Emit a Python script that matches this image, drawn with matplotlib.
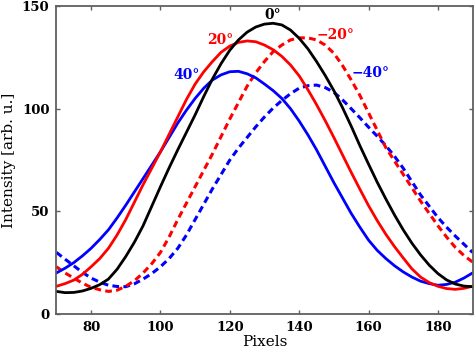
#!/usr/bin/env python3

import numpy as np
import matplotlib
matplotlib.use('Agg')
import matplotlib.pyplot as plt

# pixel positions (x axis) and intensities
pixels = [70, 72.5, 75, 77.5, 80, 82.5, 85, 87.5, 90, 92.5, 95, 97.5,
          100, 102.5, 105, 107.5, 110, 112.5, 115, 117.5, 120, 122.5, 125, 127.5,
          130, 132.5, 135, 137.5, 140, 142.5, 145, 147.5, 150, 152.5, 155, 157.5,
          160, 162.5, 165, 167.5, 170, 172.5, 175, 177.5, 180, 182.5, 185, 187.5,
          190]

int_0 = [11, 10.4, 10.5, 11.2, 12.5, 14.3, 17, 21.8, 28, 35, 43, 52.5,
         62, 71.2, 80, 88.5, 97, 106, 114.5, 122, 128.5, 133.5, 137.3, 139.8,
         141.2, 141.6, 140.8, 138.3, 134.3, 129.2, 123, 116.2, 108.8, 100.5, 91.5, 82,
         73, 64.2, 56, 48.2, 41, 34.5, 28.8, 23.8, 19.7, 16.6, 14.6, 13.6,
         13.3]
int_p20 = [13.5, 14.8, 16.5, 19.3, 23, 27, 32, 38.5, 46, 54.5, 63, 71,
           79, 87.5, 96, 104.5, 112, 118, 123, 127.5, 130.5, 132.3, 133, 132.6,
           131, 128.7, 125.5, 121.3, 116, 109.3, 102, 94.2, 86, 77.5, 69, 60.8,
           52.8, 45.5, 38.8, 32.8, 27.3, 22, 18, 15.3, 13.5, 12.4, 12, 12.5,
           13.5]
int_p40 = [20, 22.3, 25, 28.3, 32, 36.3, 41, 46.8, 53, 59.5, 66, 72.5,
           79, 86, 93, 99.3, 105, 110, 114, 116.5, 118, 118.2, 117, 115,
           112, 108.8, 105, 100, 94, 87.3, 80, 72, 64, 56.5, 49, 42.3,
           36, 31, 27, 23.5, 20.5, 18, 16, 14.8, 14, 14.4, 15.5, 17.5,
           20]
int_m20 = [23, 20, 17.5, 15, 13, 11.8, 11, 11.6, 13.5, 16.2, 20, 24.5,
           30, 37.5, 46, 54, 62, 70, 78, 86.5, 95, 103, 111, 117.5,
           123, 127.8, 131, 133.5, 134.5, 134.5, 133.5, 131, 127, 121, 114, 106.5,
           98, 89.5, 81, 74.5, 68, 61.5, 55, 49, 43, 37.5, 32.5, 28.5,
           25.3]
int_m40 = [30, 26.7, 23.5, 20.3, 17.5, 15.5, 14, 13.4, 13.3, 14.7, 17, 19.7,
           23, 27, 32, 38.5, 46, 53.5, 61, 68, 75, 80.8, 86, 91.2,
           96, 100.3, 104, 107.3, 110, 111.2, 111.5, 110.3, 108, 104.3, 100, 95.6,
           91, 86.6, 82, 76.8, 71, 64.5, 58, 52.5, 47, 42.3, 38, 34,
           30]

xticks = [80, 100, 120, 140, 160, 180]
yticks = [0, 50, 100, 150]

fig = plt.figure(figsize=(4.74, 3.55), dpi=100)
ax = fig.add_axes([0.119, 0.1155, 0.878, 0.8675])

dash = (0, (2.2, 1.4))
ax.plot(pixels, int_m40, color='blue', lw=2.2, linestyle=dash)
ax.plot(pixels, int_m20, color='red', lw=2.2, linestyle=dash)
ax.plot(pixels, int_p40, color='blue', lw=2.0)
ax.plot(pixels, int_p20, color='red', lw=2.0)
ax.plot(pixels, int_0, color='black', lw=2.0)

lbl = dict(fontfamily='DejaVu Serif', fontweight='bold', fontsize=10,
           ha='center', va='center')
ax.text(132.3, 145.6, '0°', color='black', **lbl)
ax.text(117.2, 133.7, '20°', color='red', **lbl)
ax.text(107.6, 116.4, '40°', color='blue', **lbl)
ax.text(150.5, 135.8, '\u221220°', color='red', **lbl)
ax.text(160.6, 117.5, '\u221240°', color='blue', **lbl)

ax.set_xlim(70, 190)
ax.set_ylim(0, 150)
ax.set_xticks(xticks)
ax.set_yticks(yticks)

for s in ax.spines.values():
    s.set_color('#606060')
    s.set_linewidth(1.3)
ax.tick_params(direction='in', top=True, right=True, length=3,
               color='#606060', width=1, pad=5)
for t in ax.get_xticklabels() + ax.get_yticklabels():
    t.set_fontfamily('DejaVu Serif')
    t.set_fontweight('bold')
    t.set_fontsize(9.5)

ax.set_xlabel('Pixels', fontfamily='DejaVu Serif', fontsize=11, labelpad=1)
ax.set_ylabel('Intensity [arb. u.]', fontfamily='DejaVu Serif', fontsize=11, labelpad=4)

fig.savefig('out.png', dpi=100)
